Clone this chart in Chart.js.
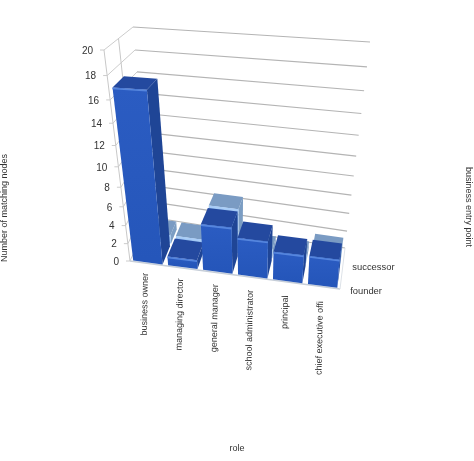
<!DOCTYPE html>
<html>
<head>
<meta charset="utf-8">
<style>html,body{margin:0;padding:0;background:#fff}canvas{display:block;filter:blur(0.3px)}</style>
<script src="https://cdn.jsdelivr.net/npm/chart.js@4"></script>
</head>
<body>
<canvas id="c" width="474" height="461"></canvas>
<script>
const categories = ['business owner','managing director','general manager','school administrator','principal','chief executive offi'];
const founder = [17,1,5,4,3,3];
const successor = [1,1,5,1,1,2];
const seriesNames = ['founder','successor'];
const yTitle = 'Number of matching nodes';
const xTitle = 'role';
const zTitle = 'business entry point';

// Camera: where the eight corners of the plot box land on the page [u, depth, height]
const view = {
  c000:[130,261], c100:[340,289], c010:[150,217], c110:[345,248],
  c001:[104,50],  c101:[358,63],  c011:[133,27],  c111:[370,42],
  foreshorten:0.24
};
const rowSpan = [[0.02,0.44],[0.5,0.82]];
const palette = [
  {front:'#2b5cc2',frontLow:'#2556ba',top:'#24499f',side:'#1f4596',edge:'#5686de'},
  {front:'#9cc3f2',frontLow:'#9cc3f2',top:'#7a9bc3',side:'#7b9dc3',edge:'#a9cdf7'}
];

function project(u,d,h){
  const t = h/(1+view.foreshorten*(1-h));
  const mix=(a,b,s)=>[a[0]+(b[0]-a[0])*s,a[1]+(b[1]-a[1])*s];
  const b=mix(mix(view.c000,view.c100,u),mix(view.c010,view.c110,u),d);
  const a=mix(mix(view.c001,view.c101,u),mix(view.c011,view.c111,u),d);
  return mix(b,a,t);
}
function poly(ctx,pts,fill){
  ctx.beginPath();pts.forEach((p,i)=>i?ctx.lineTo(p[0],p[1]):ctx.moveTo(p[0],p[1]));
  ctx.closePath();ctx.fillStyle=fill;ctx.fill();
}
function line(ctx,pts,color,w){
  ctx.beginPath();pts.forEach((p,i)=>i?ctx.lineTo(p[0],p[1]):ctx.moveTo(p[0],p[1]));
  ctx.strokeStyle=color;ctx.lineWidth=w;ctx.stroke();
}
const FAMILY='"Liberation Sans", Arial, sans-serif', INK='#333333';

const box3d = {
  id:'box3d',
  beforeDatasetsDraw(chart){
    const ctx=chart.ctx, y=chart.scales.y, area=chart.chartArea;
    const H=px=>(area.bottom-px)/area.height;
    ctx.save();
    // walls and gridlines
    y.ticks.forEach(t=>{
      const h=H(y.getPixelForValue(t.value));
      const f=project(0,0,h), b=project(0,1,h), r=project(1,1,h);
      line(ctx,[[f[0]-4,f[1]],f,b],'#cccccc',1);
      line(ctx,[b,r],'#b4b4b4',1.2);
    });
    line(ctx,[project(0,0,0),project(0,0,1)],'#c8c8c8',1);
    line(ctx,[project(0,0.5,0),project(0,0.5,1)],'#c8c8c8',1);
    line(ctx,[project(0,0,0),project(1,0,0)],'#c6ced8',1.5);
    line(ctx,[project(1,0,0),project(1,1,0)],'#dde2e8',1);
    // bars, back row first
    [1,0].forEach(ds=>{
      const meta=chart.getDatasetMeta(ds), col=palette[ds], [d0,d1]=rowSpan[ds];
      meta.data.forEach(el=>{
        const u0=(el.x-el.width/2-area.left)/area.width, u1=(el.x+el.width/2-area.left)/area.width;
        const h=H(el.y), b=H(el.base);
        const A=project(u0,d0,b),B=project(u1,d0,b),C=project(u1,d0,h),D=project(u0,d0,h);
        const E=project(u0,d1,h),F=project(u1,d1,h),G=project(u1,d1,b);
        const g=ctx.createLinearGradient(0,D[1],0,A[1]);
        g.addColorStop(0,col.front);g.addColorStop(1,col.frontLow);
        poly(ctx,[B,G,F,C],col.side);
        poly(ctx,[D,C,F,E],col.top);
        poly(ctx,[A,B,C,D],g);
        line(ctx,[[D[0],D[1]+1],[C[0],C[1]+1]],col.edge,1.6);
      });
    });
    ctx.restore();
    return false;
  },
  afterDraw(chart){
    const ctx=chart.ctx, y=chart.scales.y, x=chart.scales.x, area=chart.chartArea;
    const H=px=>(area.bottom-px)/area.height;
    ctx.save();
    ctx.fillStyle=INK;ctx.textBaseline='middle';
    // value axis
    ctx.font='10px '+FAMILY;
    ctx.textAlign='right';
    y.ticks.forEach(t=>{
      const p=project(0,0,H(y.getPixelForValue(t.value)));
      ctx.fillText(t.label,p[0]-11,p[1]+1);
    });
    // category axis
    ctx.font='9px '+FAMILY;
    categories.forEach((c,i)=>{
      const u=(x.getPixelForValue(i)-area.left)/area.width;
      const p=project(u,0,0);
      ctx.save();
      ctx.translate(p[0]-2,p[1]+9+6*u);
      ctx.rotate(-Math.PI/2+0.02);
      ctx.textAlign='right';
      ctx.fillText(c,0,0);
      ctx.restore();
    });
    // series axis
    ctx.font='9.4px '+FAMILY;
    ctx.textAlign='left';
    seriesNames.forEach((s,i)=>{
      const p=project(1,(rowSpan[i][0]+rowSpan[i][1])/2,0);
      ctx.fillText(s,p[0]+9,p[1]+(i?5:12));
    });
    // titles
    ctx.font='9px '+FAMILY;
    ctx.textAlign='center';
    ctx.fillText(xTitle,237,449);
    ctx.save();ctx.translate(5,208);ctx.rotate(-Math.PI/2);ctx.fillText(yTitle,0,0);ctx.restore();
    ctx.save();ctx.translate(468,207);ctx.rotate(Math.PI/2);ctx.fillText(zTitle,0,0);ctx.restore();
    ctx.restore();
  }
};

new Chart(document.getElementById('c'),{
  type:'bar',
  data:{labels:categories,datasets:[
    {label:seriesNames[0],data:founder,backgroundColor:palette[0].front},
    {label:seriesNames[1],data:successor,backgroundColor:palette[1].front}
  ]},
  options:{
    responsive:false,animation:false,grouped:false,
    barPercentage:0.84,categoryPercentage:1,
    plugins:{legend:{display:false},tooltip:{enabled:false}},
    scales:{
      x:{display:false},
      y:{display:false,min:0,max:20,ticks:{stepSize:2}}
    }
  },
  plugins:[box3d]
});
</script>
</body>
</html>
